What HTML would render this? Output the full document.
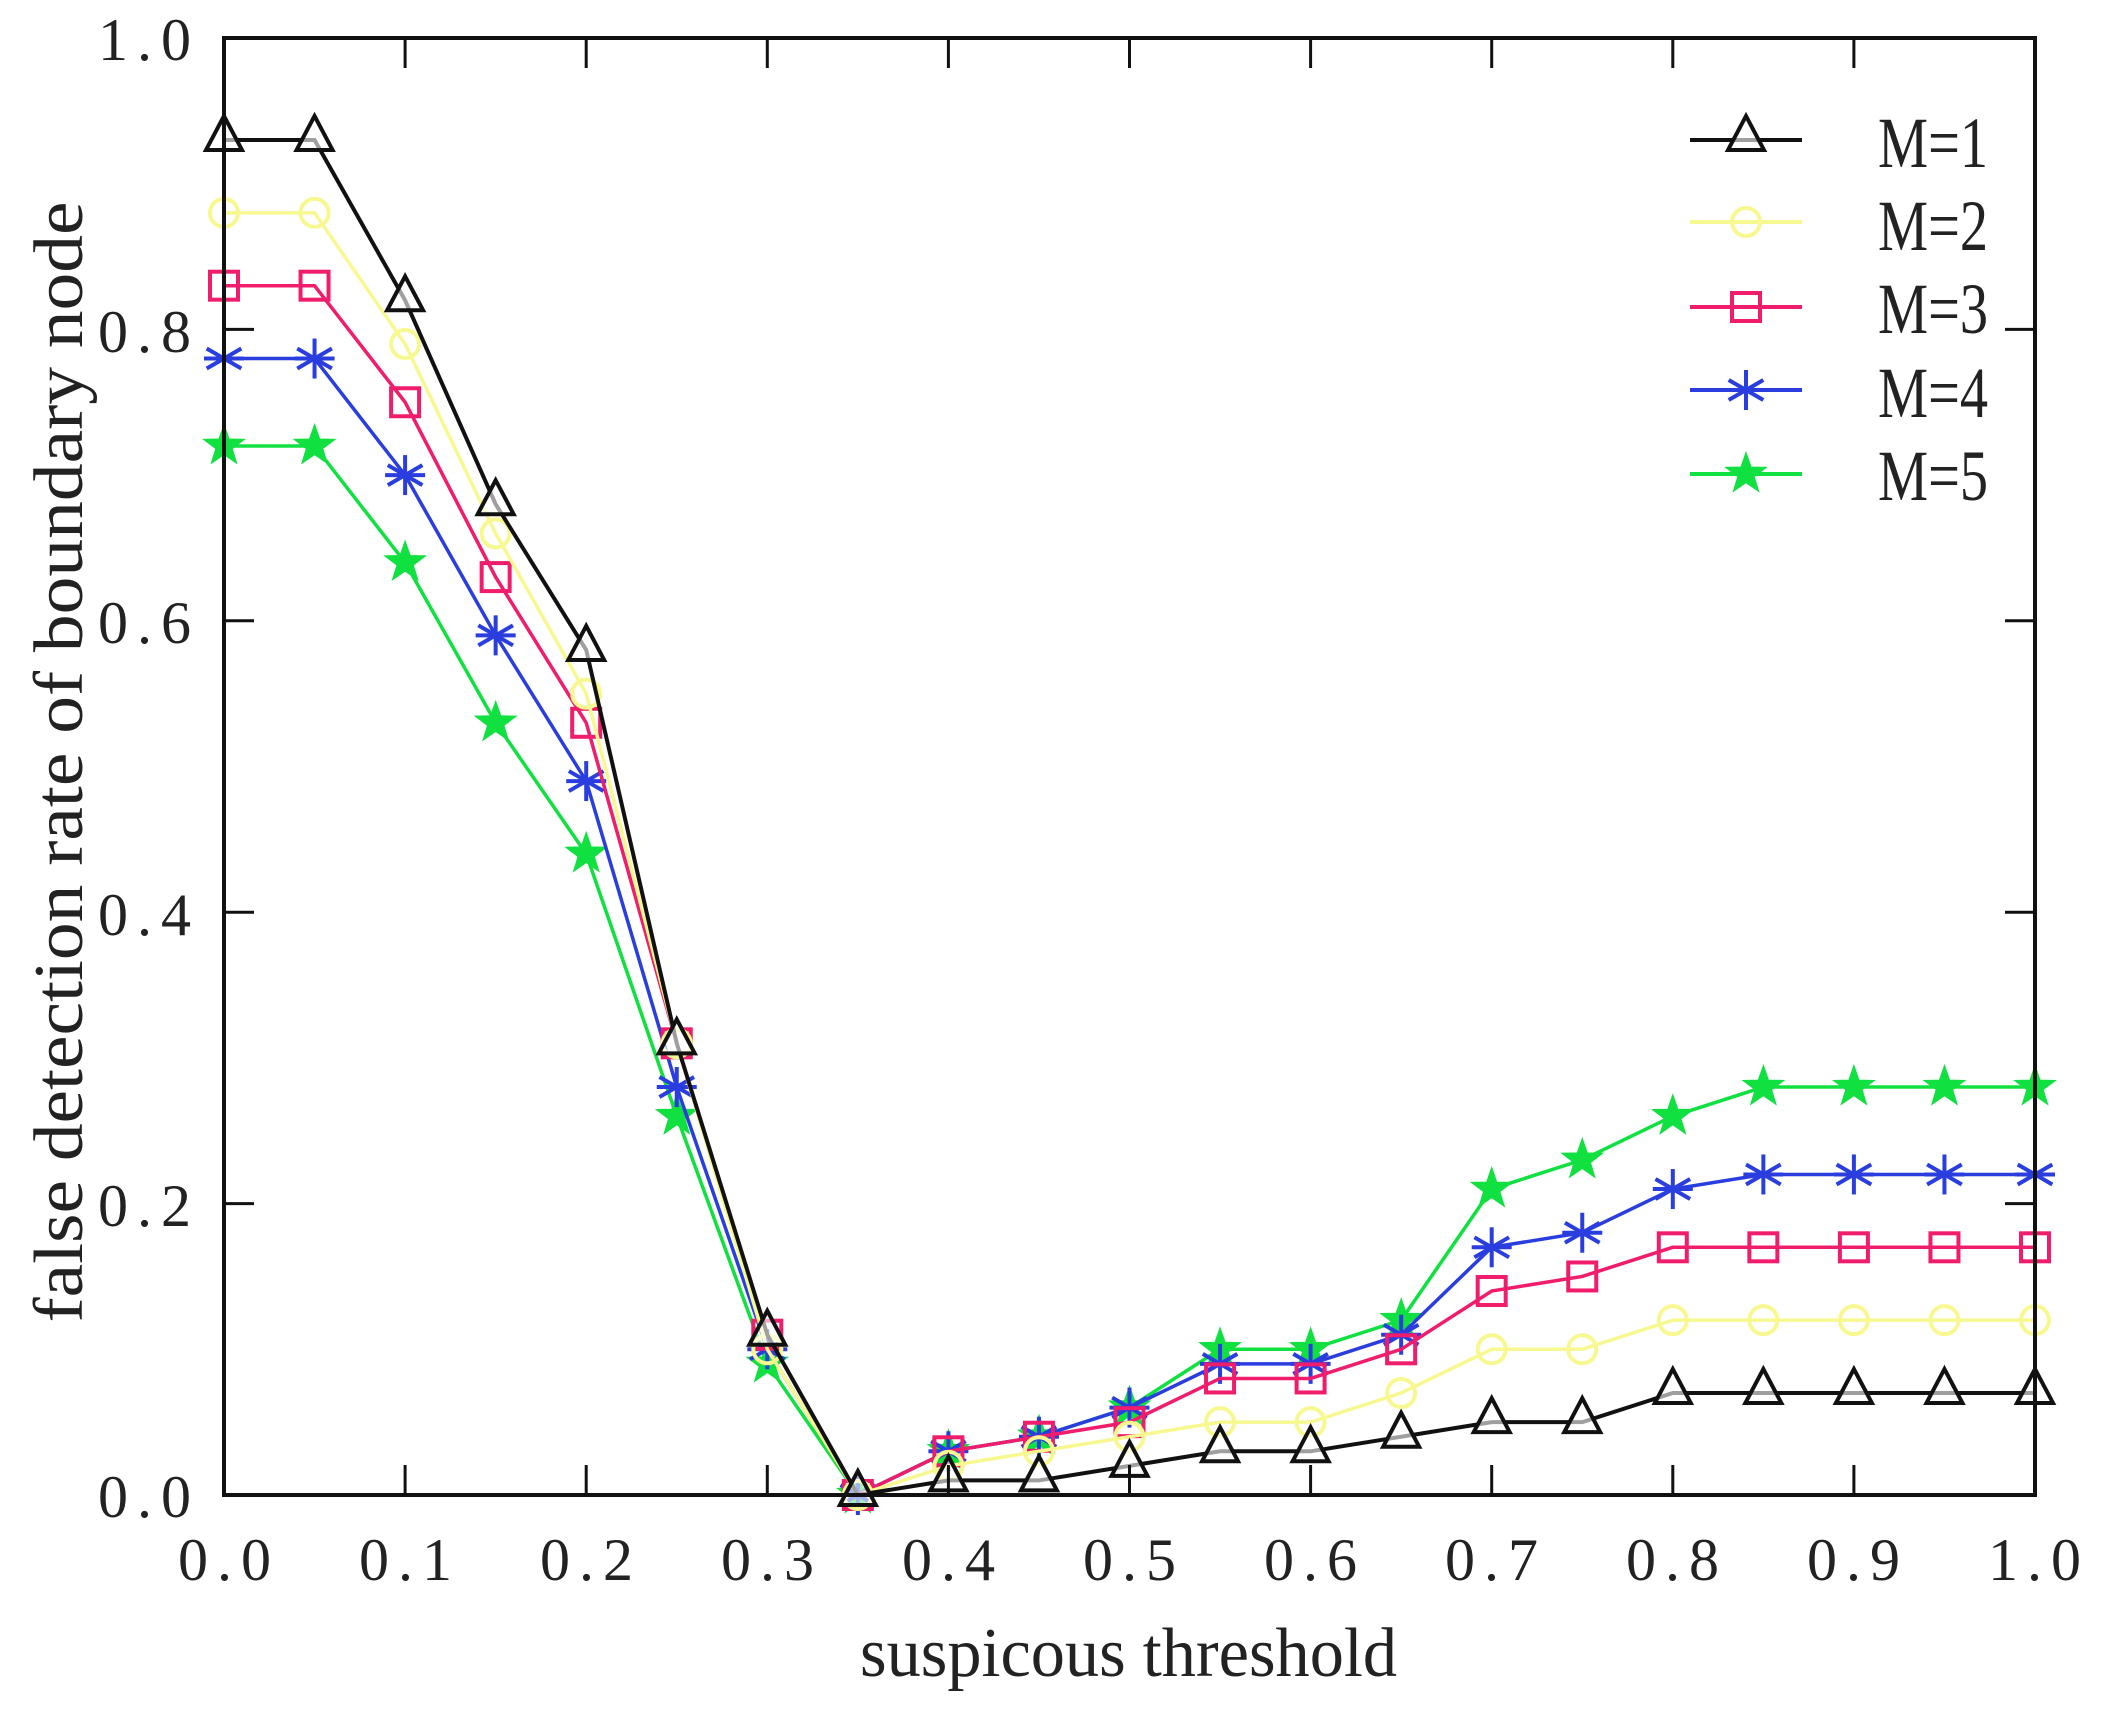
<!DOCTYPE html>
<html><head><meta charset="utf-8"><style>
html,body{margin:0;padding:0;background:#fff;}
svg{display:block;}
text{font-family:"Liberation Serif",serif;fill:#222;}
</style></head><body>
<svg id="s" width="2106" height="1716" viewBox="0 0 2106 1716" xmlns="http://www.w3.org/2000/svg">
<rect width="2106" height="1716" fill="#fff"/>
<g id="plot"></g>
<rect x="224" y="38" width="1811" height="1457" fill="none" stroke="#111" stroke-width="4"/>
<g id="ticks" stroke="#111" stroke-width="3"></g>
<g font-size="60" text-anchor="end" letter-spacing="9">
<text x="200" y="60">1.0</text>
<text x="200" y="352">0.8</text>
<text x="200" y="643">0.6</text>
<text x="200" y="935">0.4</text>
<text x="200" y="1226">0.2</text>
<text x="200" y="1517">0.0</text>
</g>
<g font-size="60" text-anchor="middle" letter-spacing="9">
<text x="229" y="1580">0.0</text>
<text x="410" y="1580">0.1</text>
<text x="591" y="1580">0.2</text>
<text x="772" y="1580">0.3</text>
<text x="953" y="1580">0.4</text>
<text x="1134" y="1580">0.5</text>
<text x="1315" y="1580">0.6</text>
<text x="1496" y="1580">0.7</text>
<text x="1677" y="1580">0.8</text>
<text x="1858" y="1580">0.9</text>
<text x="2039" y="1580">1.0</text>
</g>
<text x="860" y="1676" font-size="70" textLength="537" lengthAdjust="spacingAndGlyphs">suspicous threshold</text>
<text transform="translate(82,762) rotate(-90)" font-size="70" text-anchor="middle" textLength="1121" lengthAdjust="spacingAndGlyphs">false detection rate of boundary node</text>
<g font-size="72">
<text x="1878" y="167" textLength="110" lengthAdjust="spacingAndGlyphs">M=1</text>
<text x="1878" y="250" textLength="110" lengthAdjust="spacingAndGlyphs">M=2</text>
<text x="1878" y="333" textLength="110" lengthAdjust="spacingAndGlyphs">M=3</text>
<text x="1878" y="417" textLength="110" lengthAdjust="spacingAndGlyphs">M=4</text>
<text x="1878" y="500" textLength="110" lengthAdjust="spacingAndGlyphs">M=5</text>
</g>
<g id="legend"></g>
</svg>
<script>
const NS="http://www.w3.org/2000/svg";
function el(p,t,a){const e=document.createElementNS(NS,t);for(const k in a)e.setAttribute(k,a[k]);p.appendChild(e);return e;}
const X=x=>224+x*1811, Y=y=>1495-y*1457;
const tk=document.getElementById('ticks');
for(let i=1;i<10;i++){const x=X(i/10);el(tk,'line',{x1:x,y1:1495,x2:x,y2:1465});el(tk,'line',{x1:x,y1:38,x2:x,y2:68});}
for(let i=1;i<5;i++){const y=Y(i/5);el(tk,'line',{x1:224,y1:y,x2:254,y2:y});el(tk,'line',{x1:2035,y1:y,x2:2005,y2:y});}
const data=[
 {c:"#111",m:"tri",v:[.93,.93,.82,.68,.58,.31,.11,0,.01,.01,.02,.03,.03,.04,.05,.05,.07,.07,.07,.07,.07]},
 {c:"#f8f890",m:"circ",v:[.88,.88,.79,.66,.55,.31,.10,0,.02,.03,.04,.05,.05,.07,.10,.10,.12,.12,.12,.12,.12]},
 {c:"#f01c6c",m:"sq",v:[.83,.83,.75,.63,.53,.31,.11,0,.03,.04,.05,.08,.08,.10,.14,.15,.17,.17,.17,.17,.17]},
 {c:"#2a3ee0",m:"ast",v:[.78,.78,.70,.59,.49,.28,.10,0,.03,.04,.06,.09,.09,.11,.17,.18,.21,.22,.22,.22,.22]},
 {c:"#10e040",m:"star",v:[.72,.72,.64,.53,.44,.26,.09,0,.03,.04,.06,.10,.10,.12,.21,.23,.26,.28,.28,.28,.28]}];
function marker(g,m,c,x,y){
 if(m=="tri")el(g,'polygon',{points:`${x},${y-24} ${x-18},${y+10} ${x+18},${y+10}`,fill:"#fff","fill-opacity":0.6,stroke:c,"stroke-width":4});
 else if(m=="circ")el(g,'circle',{cx:x,cy:y,r:14,fill:"none",stroke:c,"stroke-width":4});
 else if(m=="sq")el(g,'rect',{x:x-14,y:y-14,width:28,height:28,fill:"none",stroke:c,"stroke-width":4});
 else if(m=="ast"){for(const a of [0,60,120]){const r=a*Math.PI/180;el(g,'line',{x1:x-20*Math.sin(r),y1:y-20*Math.cos(r),x2:x+20*Math.sin(r),y2:y+20*Math.cos(r),stroke:c,"stroke-width":4});}
  el(g,'line',{x1:x-20,y1:y,x2:x+20,y2:y,stroke:c,"stroke-width":4});}
 else {let p=[];for(let i=0;i<10;i++){const r=(i%2?8:20),a=Math.PI*i/5;p.push((x+r*Math.sin(a)).toFixed(1)+","+(y-r*Math.cos(a)).toFixed(1));}
  el(g,'polygon',{points:p.join(" "),fill:c,stroke:c,"stroke-width":2});}
}
const g=document.getElementById('plot');
for(let k=data.length-1;k>=0;k--){const d=data[k];
 el(g,'polyline',{points:d.v.map((v,i)=>X(i*0.05)+","+Y(v)).join(" "),fill:"none",stroke:d.c,"stroke-width":k==0?4:3.5});
 d.v.forEach((v,i)=>marker(g,d.m,d.c,X(i*0.05),Y(v)));}
const lg=document.getElementById('legend');
const ly=[140,222,307,390,474];
data.forEach((d,k)=>{el(lg,'line',{x1:1690,y1:ly[k],x2:1802,y2:ly[k],stroke:d.c,"stroke-width":4});marker(lg,d.m,d.c,1746,ly[k]);});
</script>
</body></html>
